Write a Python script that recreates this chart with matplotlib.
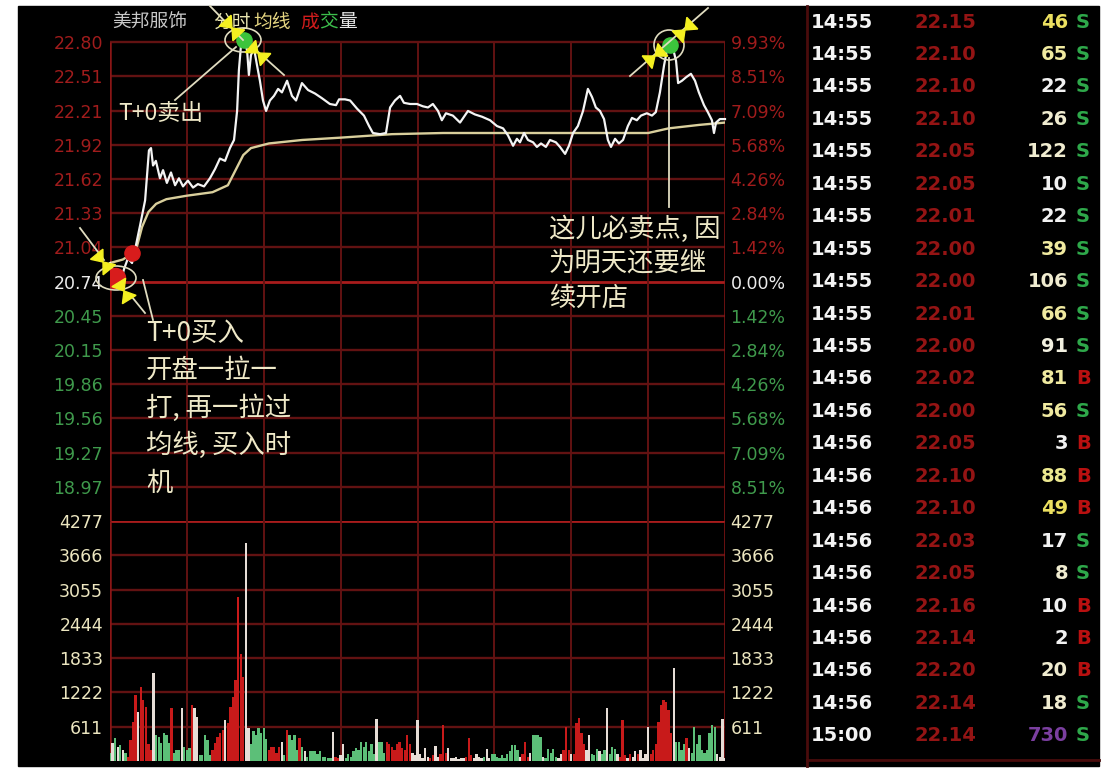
import matplotlib
matplotlib.use("Agg")
import matplotlib.pyplot as plt
from matplotlib.patches import Rectangle, Ellipse, Polygon
import numpy as np

plt.rcParams['font.family'] = ['Noto Sans CJK SC', 'DejaVu Sans']

# -----------------------
# data
# -----------------------
PREV_CLOSE = 20.74
STEP = 0.2946          # 1.42 % of the previous close

price_min = [0, 1.2, 2.3, 3.9, 5.5, 7.0, 8.6, 10.1, 11.7, 13.7,
             15.2, 16.0, 16.8, 17.9, 19.5, 20.7, 22.2, 23.8, 25.4, 26.9,
             28.5, 30.4, 32.4, 34.3, 36.7, 39.0, 41.0, 42.9, 44.9, 46.8,
             48.4, 49.6, 50.3, 51.1, 52.3, 53.5, 54.2, 55.0, 56.2, 57.4,
             58.5, 59.7, 60.9, 62.4, 64.0, 65.6, 67.1, 69.1, 71.0, 72.6,
             74.9, 77.3, 80.0, 82.7, 85.8, 88.2, 89.4, 91.7, 93.7, 96.4,
             99.1, 101.1, 102.6, 105.4, 107.7, 109.3, 111.2, 113.2, 114.7, 117.1,
             119.8, 122.1, 124.1, 126.0, 128.0, 129.5, 131.1, 133.8, 136.6, 139.7,
             142.4, 145.2, 148.3, 151.0, 153.4, 155.3, 157.3, 158.8, 160.0, 161.6,
             163.1, 165.1, 166.6, 168.2, 170.1, 171.7, 174.0, 175.6, 177.6, 179.1,
             180.7, 182.6, 184.6, 186.5, 188.1, 189.6, 191.2, 192.8, 194.3, 195.5,
             197.1, 198.6, 200.2, 202.1, 203.7, 205.6, 207.2, 209.5, 211.5, 213.0,
             214.6, 216.2, 217.3, 218.5, 219.7, 220.9, 221.7, 223.2, 224.8, 226.7,
             228.3, 229.8, 231.8, 233.3, 234.9, 235.7, 236.5, 238.0, 240]
price = [20.90, 20.84, 20.75, 20.72, 20.85, 20.94, 20.90, 21.05, 21.22, 21.44,
         21.87, 21.89, 21.74, 21.78, 21.63, 21.70, 21.59, 21.68, 21.57, 21.63,
         21.56, 21.61, 21.55, 21.58, 21.56, 21.63, 21.71, 21.80, 21.78, 21.89,
         21.96, 22.21, 22.56, 22.77, 22.83, 22.73, 22.52, 22.69, 22.75, 22.60,
         22.47, 22.30, 22.21, 22.30, 22.34, 22.40, 22.37, 22.47, 22.34, 22.30,
         22.45, 22.39, 22.36, 22.32, 22.27, 22.26, 22.31, 22.31, 22.30, 22.23,
         22.17, 22.08, 22.02, 22.01, 22.02, 22.24, 22.30, 22.34, 22.28, 22.27,
         22.27, 22.25, 22.24, 22.27, 22.21, 22.13, 22.19, 22.17, 22.11, 22.21,
         22.18, 22.16, 22.13, 22.08, 22.06, 22.00, 21.91, 21.97, 21.94, 22.02,
         21.96, 21.94, 21.90, 21.93, 21.90, 21.96, 21.94, 21.90, 21.84, 21.91,
         22.02, 22.08, 22.21, 22.40, 22.33, 22.24, 22.21, 22.14, 21.96, 21.90,
         21.97, 21.93, 21.96, 22.08, 22.15, 22.13, 22.17, 22.19, 22.17, 22.20,
         22.37, 22.60, 22.73, 22.80, 22.75, 22.64, 22.45, 22.47, 22.50, 22.53,
         22.47, 22.37, 22.26, 22.20, 22.13, 22.02, 22.11, 22.14, 22.14]

avg_min = [0, 5, 10, 12.5, 15, 18, 22, 30, 40, 46, 49, 52, 55, 62, 75, 90,
           110, 130, 150, 170, 190, 210, 218, 230, 240]
avg_price = [20.90, 20.93, 21.00, 21.21, 21.34, 21.41, 21.45, 21.48, 21.51, 21.57,
             21.70, 21.83, 21.89, 21.93, 21.96, 21.98, 22.01, 22.02, 22.02, 22.02,
             22.02, 22.02, 22.06, 22.09, 22.11]

# volume per minute (0..240), colour code r=up g=down w=flat
volume = ([140, 320, 410, 250, 280, 200, 150]
          + [70, 370, 700, 1170, 870, 1320, 1080, 960, 300, 200, 1560]
          + [460, 430, 320, 500, 460, 320, 940, 140, 200, 200, 940, 250, 200, 230,
             1000, 940, 780, 110, 110, 460, 370, 110]
          + [200, 320, 430, 500, 550, 730, 680, 960, 1140, 1440, 2920, 1900, 1500, 3880, 590]
          + [300, 540, 460, 590, 500, 590, 400]
          + [200, 250, 250, 150, 250]
          + [340, 100, 550, 460, 370, 460, 200, 410, 250, 180]
          + [80, 180, 180, 180, 120, 180, 80, 80, 60, 60, 520, 80, 60, 100, 300]
          + [60, 120, 80, 180, 230, 200, 340, 250, 340, 180, 300, 120, 750, 340, 340, 150]
          + [340, 300, 250, 200, 300, 340, 240, 200, 460, 300]
          + [150, 100, 730, 120, 60, 240, 80, 60, 100, 260, 80, 120, 640, 150]
          + [240, 60, 60, 80, 40, 60, 60, 80, 410, 100, 60, 120, 80, 60, 80, 210, 60]
          + [120, 120, 80, 60, 100, 60, 120, 180, 290, 290, 200, 80, 120, 340, 80, 150]
          + [460, 460, 460, 430, 80, 60, 210, 150, 210, 80, 60, 120, 200, 610, 200, 120]
          + [120, 680, 770, 500, 300, 200, 460, 120, 100, 210, 180, 120, 200, 940]
          + [120, 250, 210, 120, 80, 730, 100, 60, 120, 80, 180, 120, 200, 60, 120, 610]
          + [120, 200, 300, 700, 1000, 1080, 1050, 900, 500, 1650]
          + [340, 340, 200, 300, 410, 240, 150, 610, 300, 460, 200, 150, 200, 500, 640, 600]
          + [120, 80, 750, 60])
vol_color = ("gwgwgwg" + "rrrrwrrrrrw"
             + "gggggg" + "r" + "ggg" + "w" + "ggg" + "r" + "ww" + "ggggg"
             + "rrrrrwrrrrrrrww" + "ggggggg" + "rrrrr"
             + "wgrggggrgw" + "ggggggggggwrrww"
             + "gggggggggggg" + "wggg" + "rrrrrrrrrr"
             + "wwwwwww" + "rr" + "ww" + "rrr"
             + "wwwwwww" + "rrr" + "wwww" + "g" + "ww"
             + "ggggggggggg" + "w" + "rrr" + "w"
             + "gggg" + "w" + "ggggg" + "ww" + "rrr" + "w"
             + "rrrrr" + "ww" + "ggg" + "w" + "gg" + "w"
             + "ggg" + "w" + "rrr" + "w" + "r" + "ww" + "r" + "wwww"
             + "rrrrrrrrr" + "w" + "gggg" + "r" + "w" + "gggggggggg" + "wwww")

price_labels = ["22.80", "22.51", "22.21", "21.92", "21.62", "21.33", "21.04", "20.74",
                "20.45", "20.15", "19.86", "19.56", "19.27", "18.97"]
pct_labels = ["9.93%", "8.51%", "7.09%", "5.68%", "4.26%", "2.84%", "1.42%", "0.00%",
              "1.42%", "2.84%", "4.26%", "5.68%", "7.09%", "8.51%"]
vol_ticks = [611, 1222, 1833, 2444, 3055, 3666, 4277]

# tick-by-tick table on the right
t_time = ["14:55"] * 11 + ["14:56"] * 11 + ["15:00"]
t_price = ["22.15", "22.10", "22.10", "22.10", "22.05", "22.05", "22.01", "22.00", "22.00",
           "22.01", "22.00", "22.02", "22.00", "22.05", "22.10", "22.10", "22.03", "22.05",
           "22.16", "22.14", "22.20", "22.14", "22.14"]
t_vol = ["46", "65", "22", "26", "122", "10", "22", "39", "106", "66", "91", "81", "56",
         "3", "88", "49", "17", "8", "10", "2", "20", "18", "730"]
t_side = "SSSSSSSSSSSBSBBBSSBBBSS"
t_vol_color = ["#ece060", "#f0eaa0", "#f2f2f2", "#f0ecd0", "#f0ecd0", "#f2f2f2", "#f2f2f2",
               "#f0eaa0", "#f0ecd0", "#f0eaa0", "#f2f0e0", "#f0eaa0", "#f0eaa0", "#f2f2f2",
               "#ece890", "#ece060", "#f2f2f2", "#f0ecd0", "#f2f2f2", "#f2f2f2", "#f0ecd0",
               "#f0ecd0", "#7b3fa0"]

# -----------------------
# figure / layout (pixel based)
# -----------------------
W, H = 1106, 776
fig = plt.figure(figsize=(W / 100, H / 100), dpi=100)
fig.patch.set_facecolor("white")


def fbox(x0, y0, x1, y1):
    return [x0 / W, 1 - y1 / H, (x1 - x0) / W, (y1 - y0) / H]


bg = fig.add_axes([0, 0, 1, 1], zorder=0)
bg.set_xlim(0, W); bg.set_ylim(H, 0); bg.axis("off")
bg.add_patch(Rectangle((18, 6), 1081, 760, color="black"))
bg.plot([807, 807], [6, 766], color="#4a0c0c", lw=2)
bg.plot([807, 1099], [760, 760], color="#4a0c0c", lw=2)

GRID = "#621212"
BRIGHT = "#a81c1c"
RED_T, GREEN_T, WHITE_T, VOL_T = "#a01c1c", "#3f9a4c", "#ececec", "#ece6c0"

# price axes
ax_p = fig.add_axes(fbox(110, 8, 725, 521), zorder=2)
ax_p.set_xlim(0, 240)
ax_p.set_ylim(PREV_CLOSE - 7 * STEP, PREV_CLOSE + 8 * STEP)
ax_p.set_facecolor("none")
price_ticks = [PREV_CLOSE + (7 - k) * STEP for k in range(14)]
ax_p.hlines([t for t in price_ticks if abs(t - PREV_CLOSE) > 1e-6], 0, 240, color=GRID, lw=1.7)
ax_p.hlines([PREV_CLOSE], 0, 240, color=BRIGHT, lw=2.0)
ax_p.vlines(np.arange(30, 240, 30), PREV_CLOSE - 7 * STEP, price_ticks[0], color=GRID, lw=1.4)
ax_p.vlines([0, 240], PREV_CLOSE - 7 * STEP, price_ticks[0], color="#8a1616", lw=1.8)

ax_p.plot(avg_min, avg_price, color="#d9cf9c", lw=1.7, zorder=3)
ax_p.plot(price_min, price, color="#f4f4f4", lw=1.6, zorder=4, clip_on=False)

ax_p.set_yticks(price_ticks)
ax_p.set_yticklabels(price_labels)
ax_p.set_xticks([])
ax_p.tick_params(axis="y", length=0, pad=5, labelsize=12.5)
for lab, t in zip(ax_p.get_yticklabels(), price_ticks):
    lab.set_family("DejaVu Sans")
    lab.set_color(RED_T if t > PREV_CLOSE + 1e-6 else (WHITE_T if abs(t - PREV_CLOSE) < 1e-6 else GREEN_T))

ax_pr = ax_p.twinx()
ax_pr.set_ylim(ax_p.get_ylim())
ax_pr.set_yticks(price_ticks)
ax_pr.set_yticklabels(pct_labels)
ax_pr.tick_params(axis="y", length=0, pad=4, labelsize=12.5)
for lab, t in zip(ax_pr.get_yticklabels(), price_ticks):
    lab.set_family("DejaVu Sans")
    lab.set_color(RED_T if t > PREV_CLOSE + 1e-6 else (WHITE_T if abs(t - PREV_CLOSE) < 1e-6 else GREEN_T))

# volume axes
ax_v = fig.add_axes(fbox(110, 521, 725, 761), zorder=2)
ax_v.set_xlim(0, 240)
ax_v.set_ylim(0, 4277)
ax_v.set_facecolor("none")
ax_v.hlines(vol_ticks[:-1], 0, 240, color=GRID, lw=1.7)
ax_v.hlines([4277], 0, 240, color=BRIGHT, lw=2.0)
ax_v.vlines(np.arange(30, 240, 30), 0, 4277, color=GRID, lw=1.4)
ax_v.vlines([0, 240], 0, 4277, color="#8a1616", lw=1.8)
cmap = {"r": "#c81a1a", "g": "#5cbf78", "w": "#e6ddd6"}
ax_v.bar(np.arange(len(volume)), volume, width=0.9,
         color=[cmap[c] for c in vol_color], zorder=3)
ax_v.set_yticks(vol_ticks)
ax_v.set_yticklabels([str(v) for v in vol_ticks])
ax_v.set_xticks([])
ax_v.tick_params(axis="y", length=0, pad=5, labelsize=12.5, labelcolor=VOL_T)
ax_vr = ax_v.twinx()
ax_vr.set_ylim(0, 4277)
ax_vr.set_yticks(vol_ticks)
ax_vr.set_yticklabels([str(v) for v in vol_ticks])
ax_vr.tick_params(axis="y", length=0, pad=4, labelsize=12.5, labelcolor=VOL_T)
for a in (ax_v, ax_vr):
    for lab in a.get_yticklabels():
        lab.set_family("DejaVu Sans")

for a in (ax_p, ax_pr, ax_v, ax_vr):
    for s in a.spines.values():
        s.set_visible(False)

# markers at the buy / sell points
ax_p.scatter([52.3, 218.5], [22.82, 22.78], s=120, color="#3cc43c", zorder=6, clip_on=False)
ax_p.scatter([2.0], [20.77], s=210, color="#d81c1c", zorder=6)
ax_p.scatter([8.6], [20.99], s=120, color="#d81c1c", zorder=6)

# -----------------------
# annotations (overlay in pixels)
# -----------------------
ov = fig.add_axes([0, 0, 1, 1], zorder=5)
ov.set_xlim(0, W); ov.set_ylim(H, 0); ov.axis("off")
ov.patch.set_alpha(0)

LINE = "#e0dcc0"
ov.add_patch(Ellipse((243, 40), 36, 24, fill=False, ec=LINE, lw=1.2))
ov.add_patch(Ellipse((669, 45), 30, 30, fill=False, ec=LINE, lw=1.2))
ov.add_patch(Ellipse((116, 278), 40, 24, fill=False, ec=LINE, lw=1.2))

for (x0, y0, x1, y1) in [(243, 40, 210, 6), (236, 47, 175, 100), (256, 50, 284, 75),
                         (630, 76, 708, 8), (669, 58, 669, 207),
                         (80, 228, 104, 260), (143, 280, 153, 320), (132, 297, 145, 313)]:
    ov.plot([x0, x1], [y0, y1], color=LINE, lw=1.3)


def bowtie(cx, cy, tx, ty, size=10):
    # two yellow triangles meeting at (cx, cy), aligned with the direction to (tx, ty)
    d = np.array([tx - cx, ty - cy], float)
    d /= np.hypot(*d)
    n = np.array([-d[1], d[0]])
    c = np.array([cx, cy], float)
    for sgn in (1, -1):
        base = c + sgn * d * size
        pts = [c, base + n * size * 0.8, base - n * size * 0.8]
        ov.add_patch(Polygon(pts, closed=True, color="#f4f020", zorder=7))


bowtie(232, 28, 243, 40)
bowtie(258, 53, 243, 40)
bowtie(655, 56, 669, 45)
bowtie(685, 30, 669, 45)
bowtie(103, 262, 116, 278)
bowtie(124, 291, 116, 278)

TXT = "#efe9c8"
ov.text(118, 113, "T+0卖出", color=TXT, fontsize=16.5, va="center", ha="left")
for i, s in enumerate(["T+0买入", "开盘一拉一", "打, 再一拉过", "均线, 买入时", "机"]):
    ov.text(146, 333 + i * 37.5, s, color=TXT, fontsize=19, va="center", ha="left")
for i, s in enumerate(["这儿必卖点, 因", "为明天还要继", "续开店"]):
    ov.text(549, 229 + i * 34.5, s, color=TXT, fontsize=19, va="center", ha="left")

# title bar
ov.text(112, 22, "美邦服饰", color="#c8c8c8", fontsize=13.5, va="center")
ov.text(213, 22, "分时", color="#e8e4b0", fontsize=13.5, va="center")
ov.text(253, 22, "均线", color="#e4d480", fontsize=13.5, va="center")
ov.text(300, 22, "成", color="#d01c1c", fontsize=13.5, va="center")
ov.text(319, 22, "交", color="#3cbf4c", fontsize=13.5, va="center")
ov.text(338, 22, "量", color="#e8e8e8", fontsize=13.5, va="center")

# tick table
for i in range(len(t_time)):
    y = 22 + i * 32.45
    ov.text(811, y, t_time[i], color="#f4f4f4", fontsize=14, fontweight="bold",
            family="DejaVu Sans", va="center", ha="left")
    ov.text(914, y, t_price[i], color="#941414", fontsize=14, fontweight="bold",
            family="DejaVu Sans", va="center", ha="left")
    ov.text(1068, y, t_vol[i], color=t_vol_color[i], fontsize=14, fontweight="bold",
            family="DejaVu Sans", va="center", ha="right")
    ov.text(1076, y, t_side[i], color="#2ea84a" if t_side[i] == "S" else "#b81010",
            fontsize=14, fontweight="bold", family="DejaVu Sans", va="center", ha="left")

fig.savefig("out.png", dpi=100, facecolor=fig.get_facecolor())
